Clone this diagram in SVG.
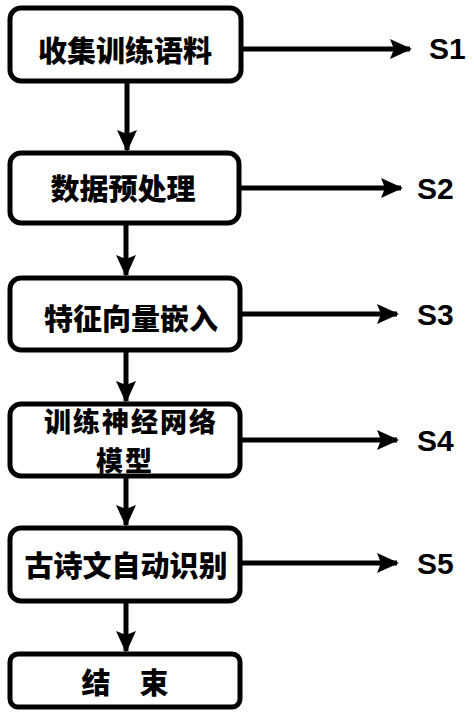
<svg xmlns="http://www.w3.org/2000/svg" width="474" height="718" viewBox="0 0 474 718">
<style>
.box{fill:#fff;stroke:#000;stroke-width:5}
.t{font-family:"Noto Sans CJK SC","Liberation Sans",sans-serif;font-weight:900;font-size:29px;fill:#000;text-anchor:middle;dominant-baseline:central}
.t2{font-size:27px;letter-spacing:2px}
.s{font-family:"Liberation Sans",Arial,sans-serif;font-weight:bold;font-size:30px;fill:#000}
.c{stroke:#000;stroke-width:5;fill:none}
</style>
<defs>
<marker id="ah" viewBox="0 0 22 20" refX="20" refY="10" markerWidth="22" markerHeight="20" markerUnits="userSpaceOnUse" orient="auto">
<path d="M0,0 L22,10 L0,20 L4,10 z" fill="#000"/>
</marker>
</defs>
<rect width="474" height="718" fill="#fff"/>
<g id="connectors">
<line class="c" x1="242" y1="49" x2="410" y2="49" marker-end="url(#ah)"/>
<line class="c" x1="240" y1="188" x2="401" y2="188" marker-end="url(#ah)"/>
<line class="c" x1="240" y1="314" x2="397" y2="314" marker-end="url(#ah)"/>
<line class="c" x1="240" y1="440" x2="397" y2="440" marker-end="url(#ah)"/>
<line class="c" x1="240" y1="563" x2="397" y2="563" marker-end="url(#ah)"/>
<line class="c" x1="127" y1="82" x2="127" y2="150" marker-end="url(#ah)"/>
<line class="c" x1="126" y1="223" x2="126" y2="275" marker-end="url(#ah)"/>
<line class="c" x1="126" y1="350" x2="126" y2="401" marker-end="url(#ah)"/>
<line class="c" x1="126" y1="476" x2="126" y2="525" marker-end="url(#ah)"/>
<line class="c" x1="126" y1="601" x2="126" y2="651" marker-end="url(#ah)"/>
</g>
<g id="n1"><rect class="box" x="10" y="8" width="231" height="73" rx="11"/><text class="t" x="125" y="49">收集训练语料</text></g>
<g id="n2"><rect class="box" x="10" y="153" width="229" height="70" rx="11"/><text class="t" x="123" y="187">数据预处理</text></g>
<g id="n3"><rect class="box" x="10" y="278" width="230" height="72" rx="11"/><text class="t" x="131" y="317">特征向量嵌入</text></g>
<g id="n4"><rect class="box" x="10" y="404" width="230" height="72" rx="11"/><text class="t t2"><tspan x="131" y="420">训练神经网络</tspan><tspan x="125" y="459">模型</tspan></text></g>
<g id="n5"><rect class="box" x="10" y="528" width="230" height="73" rx="11"/><text class="t" x="126" y="564">古诗文自动识别</text></g>
<g id="n6"><rect class="box" x="10" y="654" width="230" height="53" rx="8"/><text class="t" x="125" y="681">结　束</text></g>
<g id="labels">
<text class="s" x="429" y="59">S1</text>
<text class="s" x="417" y="199">S2</text>
<text class="s" x="417" y="325">S3</text>
<text class="s" x="417" y="451">S4</text>
<text class="s" x="417" y="574">S5</text>
</g>
</svg>
